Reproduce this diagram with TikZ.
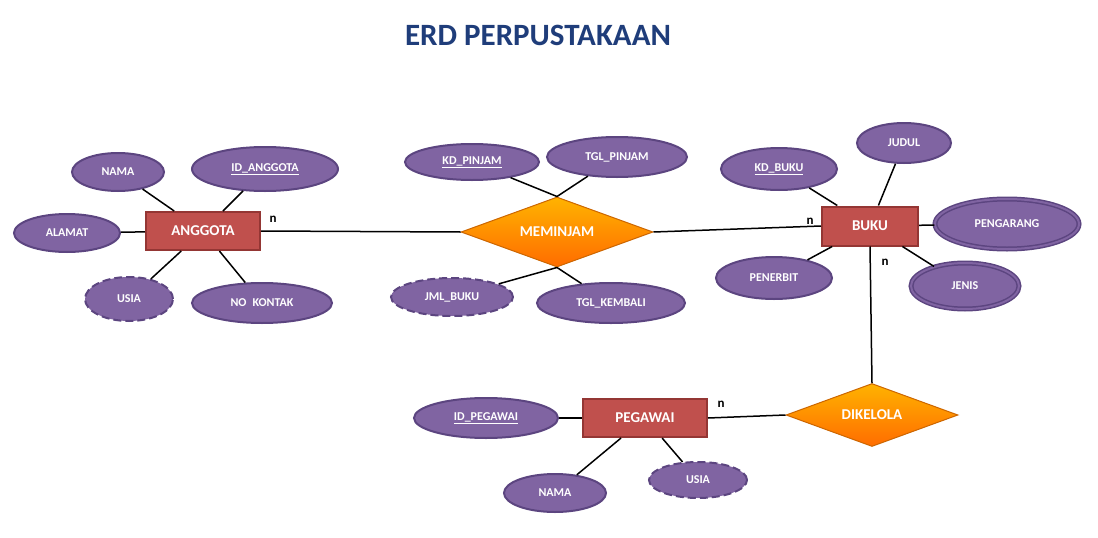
\documentclass[tikz,border=0pt]{standalone}
\usepackage{fontspec}
\setmainfont{Carlito}
\usetikzlibrary{shapes.geometric,shapes.misc}
\definecolor{ep}{HTML}{8064A2}
\definecolor{epd}{HTML}{5C4580}
\definecolor{er}{HTML}{C0504D}
\definecolor{erd}{HTML}{943634}
\definecolor{tb}{HTML}{1F3D7A}
\tikzset{
 attr/.style={ellipse,fill=ep,draw=epd,line width=2pt,text=white,font=\fontsize{12}{14}\selectfont\bfseries,minimum width=#1,minimum height=38pt,inner sep=0pt},
 attr/.default=100pt,
 multi/.style={attr=#1,double=ep,double distance=2pt,line width=1.5pt},
 deriv/.style={attr=#1,dashed,dash pattern=on 8pt off 4pt},
 ent/.style={rectangle,fill=er,draw=erd,line width=2pt,text=white,font=\fontsize{15}{17}\selectfont\bfseries,minimum width=#1,minimum height=38pt},
 rel/.style={diamond,aspect=2.7,top color=orange!60!yellow,bottom color=orange!85!red,draw=orange!80!black,line width=1pt,text=white,font=\fontsize{15}{17}\selectfont\bfseries,inner sep=1pt},
 ln/.style={line width=1.5pt,black},
 card/.style={font=\fontsize{13}{15}\selectfont\bfseries}
}
\begin{document}
\begin{tikzpicture}[x=1pt,y=-1pt]
\useasboundingbox (0,0) rectangle (1098,538);
\node[text=tb,font=\fontsize{31}{34}\selectfont\bfseries] (title) at (538,35) {ERD PERPUSTAKAAN};
% ANGGOTA
\node[ent=114pt] (ang) at (203,231) {ANGGOTA};
\node[attr=92pt] (nama) at (118,172) {NAMA};
\node[attr=146pt,minimum height=44pt] (ida) at (265,169) {\underline{ID\_ANGGOTA}};
\node[attr=106pt] (alamat) at (67,233) {ALAMAT};
\node[deriv=88pt,minimum height=44pt] (usia) at (129,299) {USIA};
\node[attr=140pt,minimum height=40pt] (nok) at (262,303) {NO\enspace KONTAK};
% MEMINJAM
\node[rel,minimum width=192pt,minimum height=70pt] (mem) at (557,232) {MEMINJAM};
\node[attr=134pt,minimum height=36pt] (kdp) at (472,162) {\underline{KD\_PINJAM}};
\node[attr=140pt,minimum height=40pt] (tglp) at (617,157) {TGL\_PINJAM};
\node[deriv=122pt] (jml) at (452,297) {JML\_BUKU};
\node[attr=148pt,minimum height=40pt] (tglk) at (611,303) {TGL\_KEMBALI};
% BUKU
\node[ent=96pt,minimum height=39pt] (buku) at (870,226) {BUKU};
\node[attr=116pt,minimum height=42pt] (kdb) at (779,169) {\underline{KD\_BUKU}};
\node[attr=94pt,minimum height=40pt] (judul) at (904,143) {JUDUL};
\node[multi=144pt,minimum height=50pt] (peng) at (1007,224) {PENGARANG};
\node[attr=116pt,minimum height=42pt] (pen) at (774,278) {PENERBIT};
\node[multi=108pt,minimum height=46pt] (jenis) at (965,286) {JENIS};
% DIKELOLA
\node[rel,minimum width=172pt,minimum height=63pt] (dik) at (872,415) {DIKELOLA};
% PEGAWAI
\node[ent=124pt] (peg) at (645,418) {PEGAWAI};
\node[attr=144pt,minimum height=40pt] (idp) at (486,418) {\underline{ID\_PEGAWAI}};
\node[attr=102pt] (nama2) at (555,493) {NAMA};
\node[deriv=98pt,minimum height=36pt] (usia2) at (698,480) {USIA};
% connectors
\draw[ln] (nama) -- (ang);
\draw[ln] (ida) -- (ang);
\draw[ln] (alamat) -- (ang);
\draw[ln] (usia) -- (ang);
\draw[ln] (nok) -- (ang);
\draw[ln] (ang.east) -- (mem.west);
\draw[ln] (mem.east) -- (buku.west);
\draw[ln] (kdp) -- (mem.north);
\draw[ln] (tglp) -- (mem.north);
\draw[ln] (jml) -- (mem.south);
\draw[ln] (tglk) -- (mem.south);
\draw[ln] (kdb) -- (buku);
\draw[ln] (judul) -- (buku);
\draw[ln] (peng) -- (buku);
\draw[ln] (pen) -- (buku);
\draw[ln] (jenis) -- (buku);
\draw[ln] (buku.south) -- (dik.north);
\draw[ln] (dik.west) -- (peg.east);
\draw[ln] (idp) -- (peg);
\draw[ln] (nama2) -- (peg);
\draw[ln] (usia2) -- (peg);
\node[card] (c1) at (273,219) {n};
\node[card] (c2) at (810,221) {n};
\node[card] (c3) at (885,262) {n};
\node[card] (c4) at (721,404) {n};
\end{tikzpicture}
\end{document}
